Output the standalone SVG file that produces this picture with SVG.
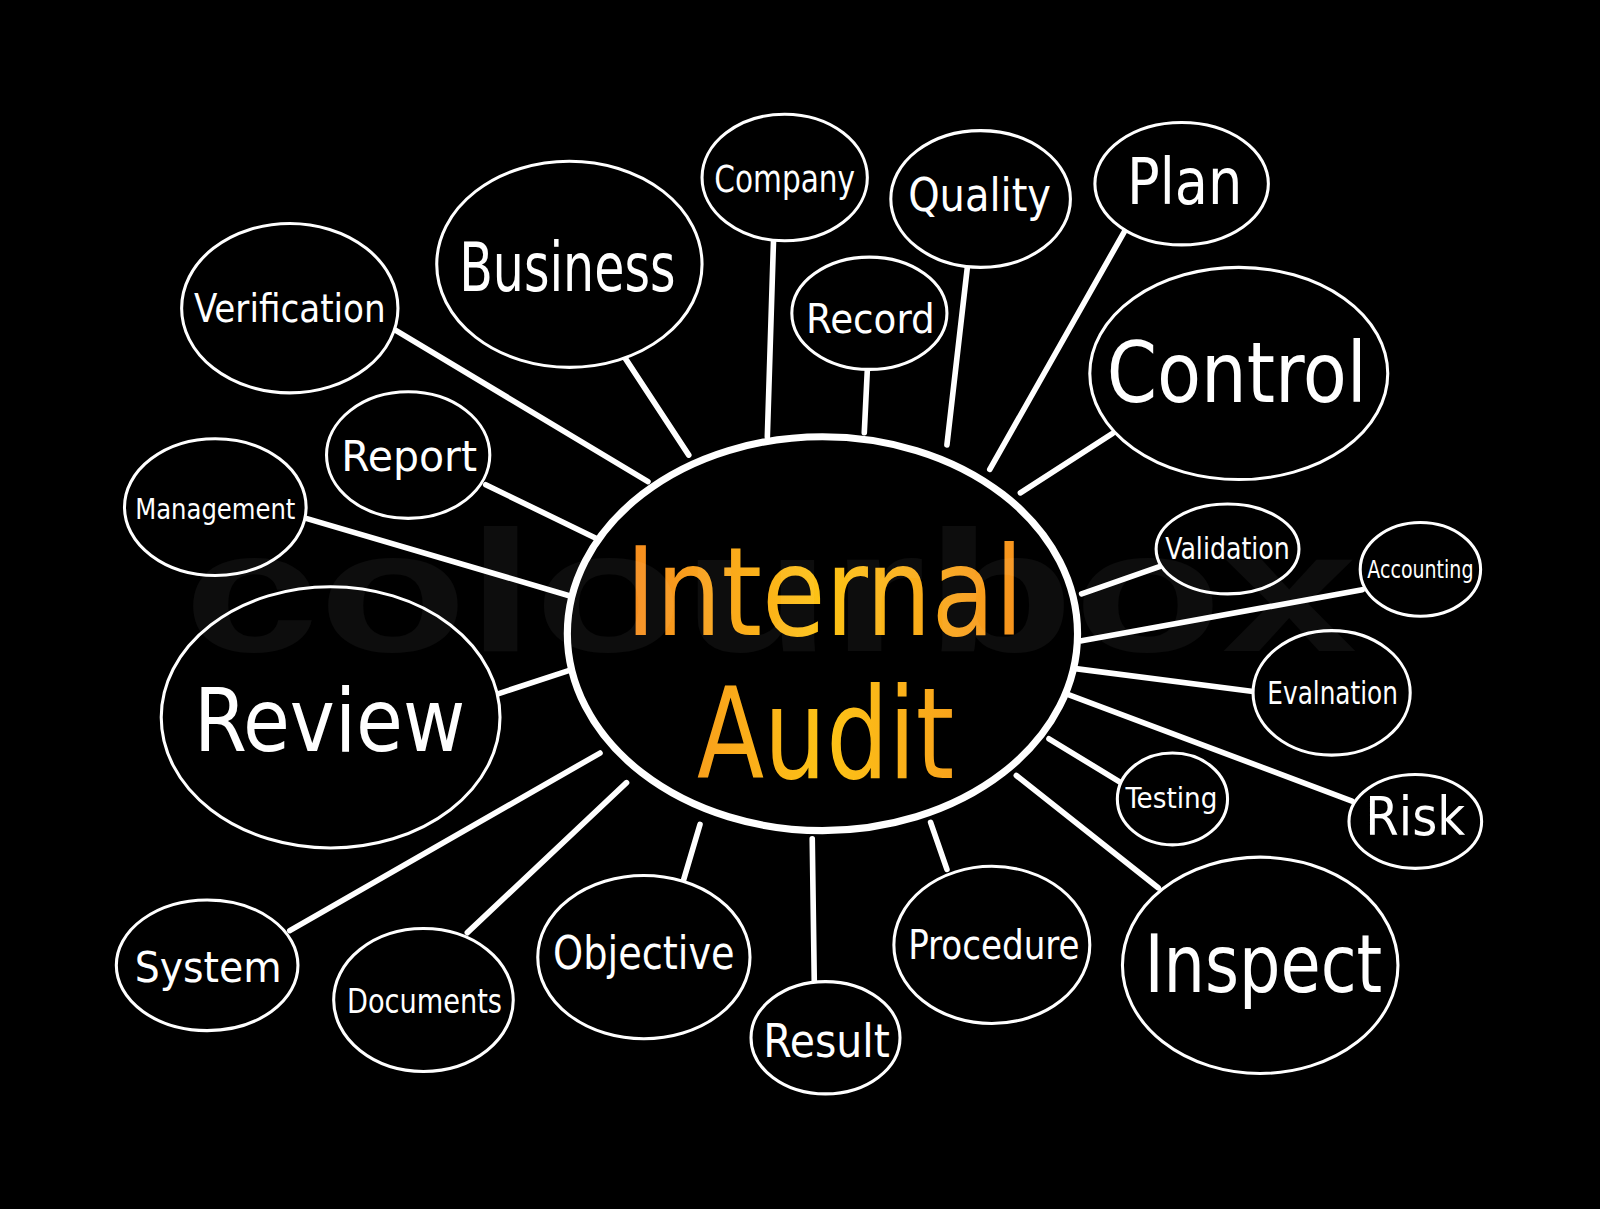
<svg xmlns="http://www.w3.org/2000/svg" width="1600" height="1209" viewBox="0 0 1600 1209">
<defs>
<linearGradient id="og" gradientUnits="userSpaceOnUse" x1="610" y1="0" x2="1005" y2="0">
<stop offset="0" stop-color="#f68b1f"/>
<stop offset="0.5" stop-color="#fdc316"/>
<stop offset="1" stop-color="#f6921e"/>
</linearGradient>
<style>
.n{fill:#000;stroke:#fff;stroke-width:3}
.t{fill:#fff;font-family:'Liberation Sans Narrow','DejaVu Sans Condensed','Liberation Sans',sans-serif;text-anchor:middle}
#connectors line{stroke:#fff;stroke-width:5.5;stroke-linecap:round}
</style>
</defs>
<rect width="1600" height="1209" fill="#000"/>
<g transform="scale(1.020408)">
<g id="connectors">
<line x1="385" y1="322" x2="635" y2="472"/>
<line x1="612" y1="350" x2="675" y2="446"/>
<line x1="758" y1="237" x2="752" y2="428"/>
<line x1="850" y1="362" x2="847" y2="424"/>
<line x1="948" y1="262" x2="928" y2="436"/>
<line x1="1103" y1="225" x2="970" y2="460"/>
<line x1="1090" y1="425" x2="1000" y2="483"/>
<line x1="476" y1="475" x2="585" y2="528"/>
<line x1="300" y1="508" x2="562" y2="585"/>
<line x1="488" y1="680" x2="558" y2="657"/>
<line x1="284" y1="912" x2="588" y2="738"/>
<line x1="458" y1="914" x2="614" y2="767"/>
<line x1="670" y1="862" x2="686" y2="808"/>
<line x1="798" y1="962" x2="796" y2="822"/>
<line x1="928" y1="852" x2="912" y2="806"/>
<line x1="1135" y1="870" x2="996" y2="760"/>
<line x1="1100" y1="768" x2="1028" y2="724"/>
<line x1="1325" y1="785" x2="1045" y2="680"/>
<line x1="1230" y1="678" x2="1052" y2="655"/>
<line x1="1335" y1="578" x2="1060" y2="628"/>
<line x1="1137" y1="555" x2="1060" y2="582"/>
</g>
<g id="node-center">
<ellipse cx="806" cy="621" rx="250" ry="193" fill="#000" stroke="#fff" stroke-width="7"/>
<text x="808" y="622" font-family="'Liberation Sans Narrow','DejaVu Sans Condensed',sans-serif" font-size="120" fill="url(#og)" text-anchor="middle" textLength="390" lengthAdjust="spacingAndGlyphs">Internal</text>
<text x="809" y="762" font-family="'Liberation Sans Narrow','DejaVu Sans Condensed',sans-serif" font-size="124" fill="url(#og)" text-anchor="middle" textLength="252" lengthAdjust="spacingAndGlyphs">Audit</text>
</g>
<g id="node-verification"><ellipse class="n" cx="284" cy="302" rx="106" ry="83"/><text class="t" x="284" y="316" font-size="38" textLength="188" lengthAdjust="spacingAndGlyphs">Verification</text></g>
<g id="node-business"><ellipse class="n" cx="558" cy="259" rx="130" ry="101"/><text class="t" x="556" y="285" font-size="66" textLength="212" lengthAdjust="spacingAndGlyphs">Business</text></g>
<g id="node-company"><ellipse class="n" cx="769" cy="174" rx="81" ry="62"/><text class="t" x="769" y="188" font-size="36" textLength="138" lengthAdjust="spacingAndGlyphs">Company</text></g>
<g id="node-quality"><ellipse class="n" cx="961" cy="195" rx="88" ry="67"/><text class="t" x="960" y="207" font-size="46" textLength="140" lengthAdjust="spacingAndGlyphs">Quality</text></g>
<g id="node-plan"><ellipse class="n" cx="1158" cy="180" rx="85" ry="60"/><text class="t" x="1161" y="200" font-size="62" textLength="113" lengthAdjust="spacingAndGlyphs">Plan</text></g>
<g id="node-record"><ellipse class="n" cx="852" cy="307" rx="76" ry="55"/><text class="t" x="853" y="326" font-size="40" textLength="126" lengthAdjust="spacingAndGlyphs">Record</text></g>
<g id="node-control"><ellipse class="n" cx="1214" cy="366" rx="146" ry="104"/><text class="t" x="1212" y="394" font-size="82" textLength="255" lengthAdjust="spacingAndGlyphs">Control</text></g>
<g id="node-report"><ellipse class="n" cx="400" cy="446" rx="80" ry="62"/><text class="t" x="401" y="462" font-size="42" textLength="133" lengthAdjust="spacingAndGlyphs">Report</text></g>
<g id="node-management"><ellipse class="n" cx="211" cy="497" rx="89" ry="67"/><text class="t" x="211" y="509" font-size="28" textLength="157" lengthAdjust="spacingAndGlyphs">Management</text></g>
<g id="node-review"><ellipse class="n" cx="324" cy="703" rx="166" ry="128"/><text class="t" x="323" y="736" font-size="86" textLength="266" lengthAdjust="spacingAndGlyphs">Review</text></g>
<g id="node-validation"><ellipse class="n" cx="1203" cy="538" rx="70" ry="44"/><text class="t" x="1203" y="548" font-size="30" textLength="122" lengthAdjust="spacingAndGlyphs">Validation</text></g>
<g id="node-accounting"><ellipse class="n" cx="1392" cy="558" rx="59" ry="46"/><text class="t" x="1392" y="566" font-size="24" textLength="104" lengthAdjust="spacingAndGlyphs">Accounting</text></g>
<g id="node-evalnation"><ellipse class="n" cx="1305" cy="679" rx="77" ry="61"/><text class="t" x="1306" y="690" font-size="31" textLength="128" lengthAdjust="spacingAndGlyphs">Evalnation</text></g>
<g id="node-testing"><ellipse class="n" cx="1149" cy="783" rx="54" ry="45"/><text class="t" x="1148" y="792" font-size="27" textLength="90" lengthAdjust="spacingAndGlyphs">Testing</text></g>
<g id="node-risk"><ellipse class="n" cx="1387" cy="805" rx="65" ry="46"/><text class="t" x="1387" y="818" font-size="52" textLength="98" lengthAdjust="spacingAndGlyphs">Risk</text></g>
<g id="node-system"><ellipse class="n" cx="203" cy="946" rx="89" ry="64"/><text class="t" x="204" y="962" font-size="42" textLength="144" lengthAdjust="spacingAndGlyphs">System</text></g>
<g id="node-documents"><ellipse class="n" cx="415" cy="980" rx="88" ry="70"/><text class="t" x="416" y="993" font-size="33" textLength="152" lengthAdjust="spacingAndGlyphs">Documents</text></g>
<g id="node-objective"><ellipse class="n" cx="631" cy="938" rx="104" ry="80"/><text class="t" x="631" y="950" font-size="46" textLength="178" lengthAdjust="spacingAndGlyphs">Objective</text></g>
<g id="node-result"><ellipse class="n" cx="809" cy="1017" rx="73" ry="55"/><text class="t" x="810" y="1036" font-size="46" textLength="124" lengthAdjust="spacingAndGlyphs">Result</text></g>
<g id="node-procedure"><ellipse class="n" cx="972" cy="926" rx="96" ry="77"/><text class="t" x="974" y="940" font-size="40" textLength="168" lengthAdjust="spacingAndGlyphs">Procedure</text></g>
<g id="node-inspect"><ellipse class="n" cx="1235" cy="946" rx="135" ry="106"/><text class="t" x="1238" y="972" font-size="78" textLength="233" lengthAdjust="spacingAndGlyphs">Inspect</text></g>
<text x="755" y="638" font-family="'Liberation Sans','DejaVu Sans',sans-serif" font-weight="bold" font-size="170" fill="#fff" fill-opacity="0.05" text-anchor="middle" textLength="1150" lengthAdjust="spacingAndGlyphs">colourbox</text>
</g>
</svg>
